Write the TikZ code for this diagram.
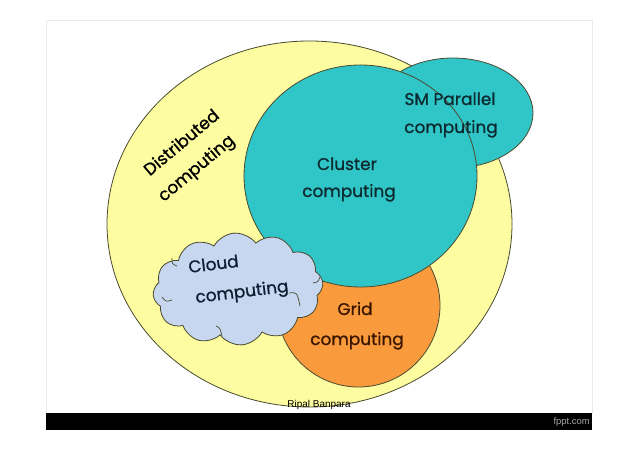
\documentclass[tikz,border=0pt]{standalone}
\usepackage{fontspec}
\setmainfont{Poppins}[FakeBold=0.8,AutoFakeBold=0.8]
\newfontfamily\arialfont{Liberation Sans}
\newfontfamily\labelfont{Poppins}[FakeBold=0.9]
\usetikzlibrary{shapes.geometric,shapes.symbols}
\definecolor{yel}{HTML}{FDFCA0}
\definecolor{cyn}{HTML}{30C5C6}
\definecolor{org}{HTML}{F99B3C}
\definecolor{cld}{HTML}{C6D7EF}
\definecolor{edge}{HTML}{4A4A30}
\definecolor{txt}{HTML}{0C2B30}
\definecolor{brn}{HTML}{3A1600}
\definecolor{navy}{HTML}{101C30}
\definecolor{slideedge}{HTML}{E6ECEE}
\begin{document}
\begin{tikzpicture}[x=1bp,y=-1bp,
  setshape/.style={draw=edge, line width=0.8bp, inner sep=0},
  lbl/.style={font=\labelfont\fontsize{17}{20}\selectfont, text=txt, inner sep=0},
  hint/.style={draw=edge, line width=0.7bp}]
\useasboundingbox (0,0) rectangle (638,452);
\fill[white] (0,0) rectangle (638,452);
\draw[slideedge, line width=0.6bp] (46,20) rectangle (592,413);
\node[fill=black, inner sep=0, minimum width=546bp, minimum height=17bp, anchor=north west] (bar) at (46,413) {};
% shapes
\node[setshape, ellipse, fill=yel, minimum width=405bp, minimum height=366bp] (dist) at (309.5,224) {};
\node[setshape, ellipse, fill=cyn, minimum width=160bp, minimum height=110bp] (sm) at (453,113) {};
\node[setshape, circle, fill=org, minimum size=163bp] (grid) at (358.5,305.5) {};
\node[setshape, ellipse, fill=cyn, minimum width=233bp, minimum height=222bp] (cluster) at (360.5,176) {};
\node[setshape, cloud, cloud puffs=12, cloud puff arc=115, aspect=1.5, fill=cld,
  minimum width=170bp, minimum height=112bp, rotate=4] (cloud) at (238,289) {};
% cloud inner hint arcs
\draw[hint] (289,293) .. controls (297,292) .. (300,306);
\draw[hint] (162,297) .. controls (166,302) .. (172,300);
\draw[hint] (216,326) .. controls (220,328) .. (222,336);
\draw[hint] (172,258) .. controls (172,264) .. (177,266);
\draw[hint] (313,283) .. controls (318,282) .. (320,277);
% labels
\node[lbl, rotate=40, text=black] (d1) at (181,142) {Distributed};
\node[lbl, rotate=40, text=black] (d2) at (197,169) {computing};
\node[lbl, anchor=base] (sm1) at (450,105) {SM Parallel};
\node[lbl, anchor=base] (sm2) at (451,133) {computing};
\node[lbl, anchor=base] (cl1) at (347,170) {Cluster};
\node[lbl, anchor=base] (cl2) at (349,197) {computing};
\node[lbl, anchor=base, text=brn] (g1) at (355,315) {Grid};
\node[lbl, anchor=base, text=brn] (g2) at (357,345) {computing};
\node[lbl, anchor=base west, rotate=7, text=navy] (c1) at (189,273) {Cloud};
\node[lbl, anchor=base west, rotate=7, text=navy] (c2) at (196,303) {computing};
\node[font=\arialfont\fontsize{10}{12}\selectfont, anchor=base, inner sep=0] (author) at (319,407) {Ripal Banpara};
\node[font=\arialfont\fontsize{9.5}{11}\selectfont, text=gray!70, anchor=base east, inner sep=0] (fppt) at (590,424) {fppt.com};
\end{tikzpicture}
\end{document}
